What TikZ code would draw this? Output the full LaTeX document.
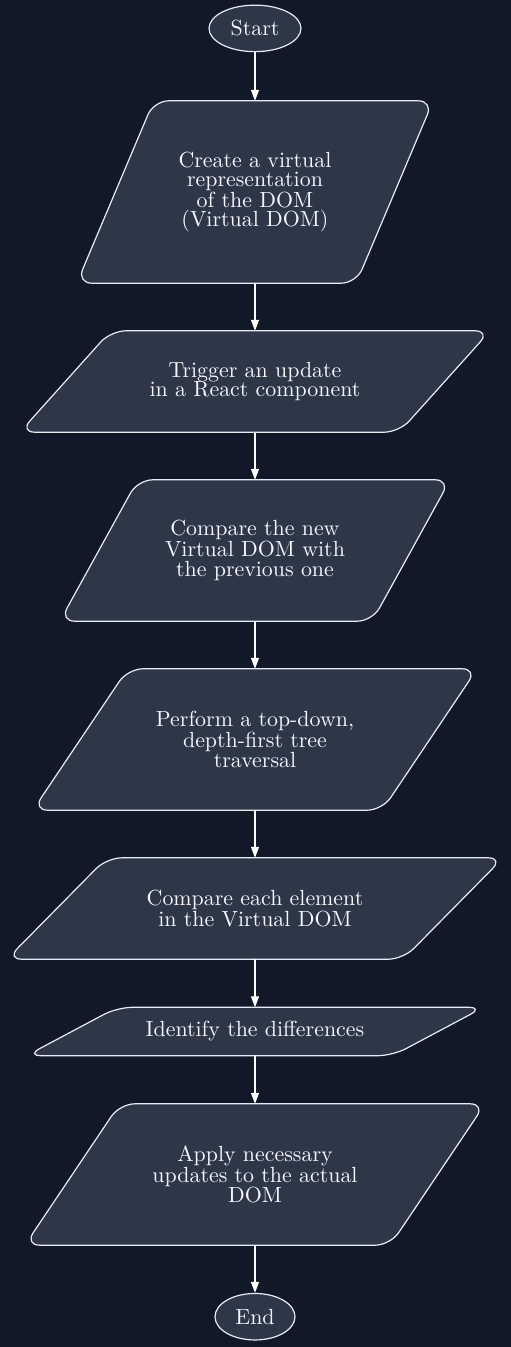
\documentclass[tikz,border=0pt]{standalone}
\usepackage{fontspec}
\newfontfamily\diafont{lmroman10-regular.otf}
\usetikzlibrary{arrows.meta,shapes.geometric,backgrounds}
\definecolor{bgc}{HTML}{111827}
\definecolor{fillc}{HTML}{2D3748}
\definecolor{linec}{HTML}{E8ECF2}
\definecolor{textc}{HTML}{F4F6FA}
\tikzset{
  ptext/.style={rectangle, inner sep=0pt, align=center, text=textc,
    font=\diafont\fontsize{21.9}{19.6}\selectfont},
  pshape/.style={draw=linec, fill=fillc, line width=1.2pt, rounded corners=15pt},
  term/.style={ellipse, draw=linec, fill=fillc, line width=1.2pt, inner sep=0pt,
    text=textc, font=\diafont\fontsize{21.9}{19.6}\selectfont},
  arr/.style={draw=white, line width=1.1pt, -{Triangle[length=11pt,width=8pt]}}
}
% name, cy, half top-edge w, skew s, height h, text
\newcommand\paranode[6]{%
  \node[ptext, minimum width={2*#3+#4}, minimum height=#5] (#1) at (255,#2) {#6};
  \begin{pgfonlayer}{background}
  \draw[pshape] ([xshift=#4]#1.north west) -- (#1.north east)
     -- ([xshift=-#4]#1.south east) -- (#1.south west) -- cycle;
  \end{pgfonlayer}
}
\begin{document}
\begin{tikzpicture}[x=1pt,y=-1pt]
\begin{pgfonlayer}{background}
\fill[bgc] (0,0) rectangle (511,1347);
\end{pgfonlayer}
\useasboundingbox (0,0) rectangle (511,1347);

\node[term, minimum width=92, minimum height=46.5] (start) at (255,28.4) {Start};

\paranode{p1}{192}{139.5}{77}{182}{Create a virtual\\representation\\of the DOM\\(Virtual DOM)}
\paranode{p2}{381.5}{189.5}{91}{101}{Trigger an update\\in a React component}
\paranode{p3}{550.5}{156}{78}{141}{Compare the new\\Virtual DOM with\\the previous one}
\paranode{p4}{739.5}{174.5}{95}{141}{Perform a top-down,\\depth-first tree\\traversal}
\paranode{p5}{908.5}{198}{100}{101}{Compare each element\\in the Virtual DOM}
\paranode{p6}{1031.5}{183}{91}{48}{Identify the differences}
\paranode{p7}{1174.5}{182.5}{95}{141}{Apply necessary\\updates to the actual\\DOM}

\node[term, minimum width=80, minimum height=46.5] (end) at (255,1316.7) {End};

\draw[arr] (start.south) -- (p1.north);
\draw[arr] (p1.south) -- (p2.north);
\draw[arr] (p2.south) -- (p3.north);
\draw[arr] (p3.south) -- (p4.north);
\draw[arr] (p4.south) -- (p5.north);
\draw[arr] (p5.south) -- (p6.north);
\draw[arr] (p6.south) -- (p7.north);
\draw[arr] (p7.south) -- (end.north);
\end{tikzpicture}
\end{document}
